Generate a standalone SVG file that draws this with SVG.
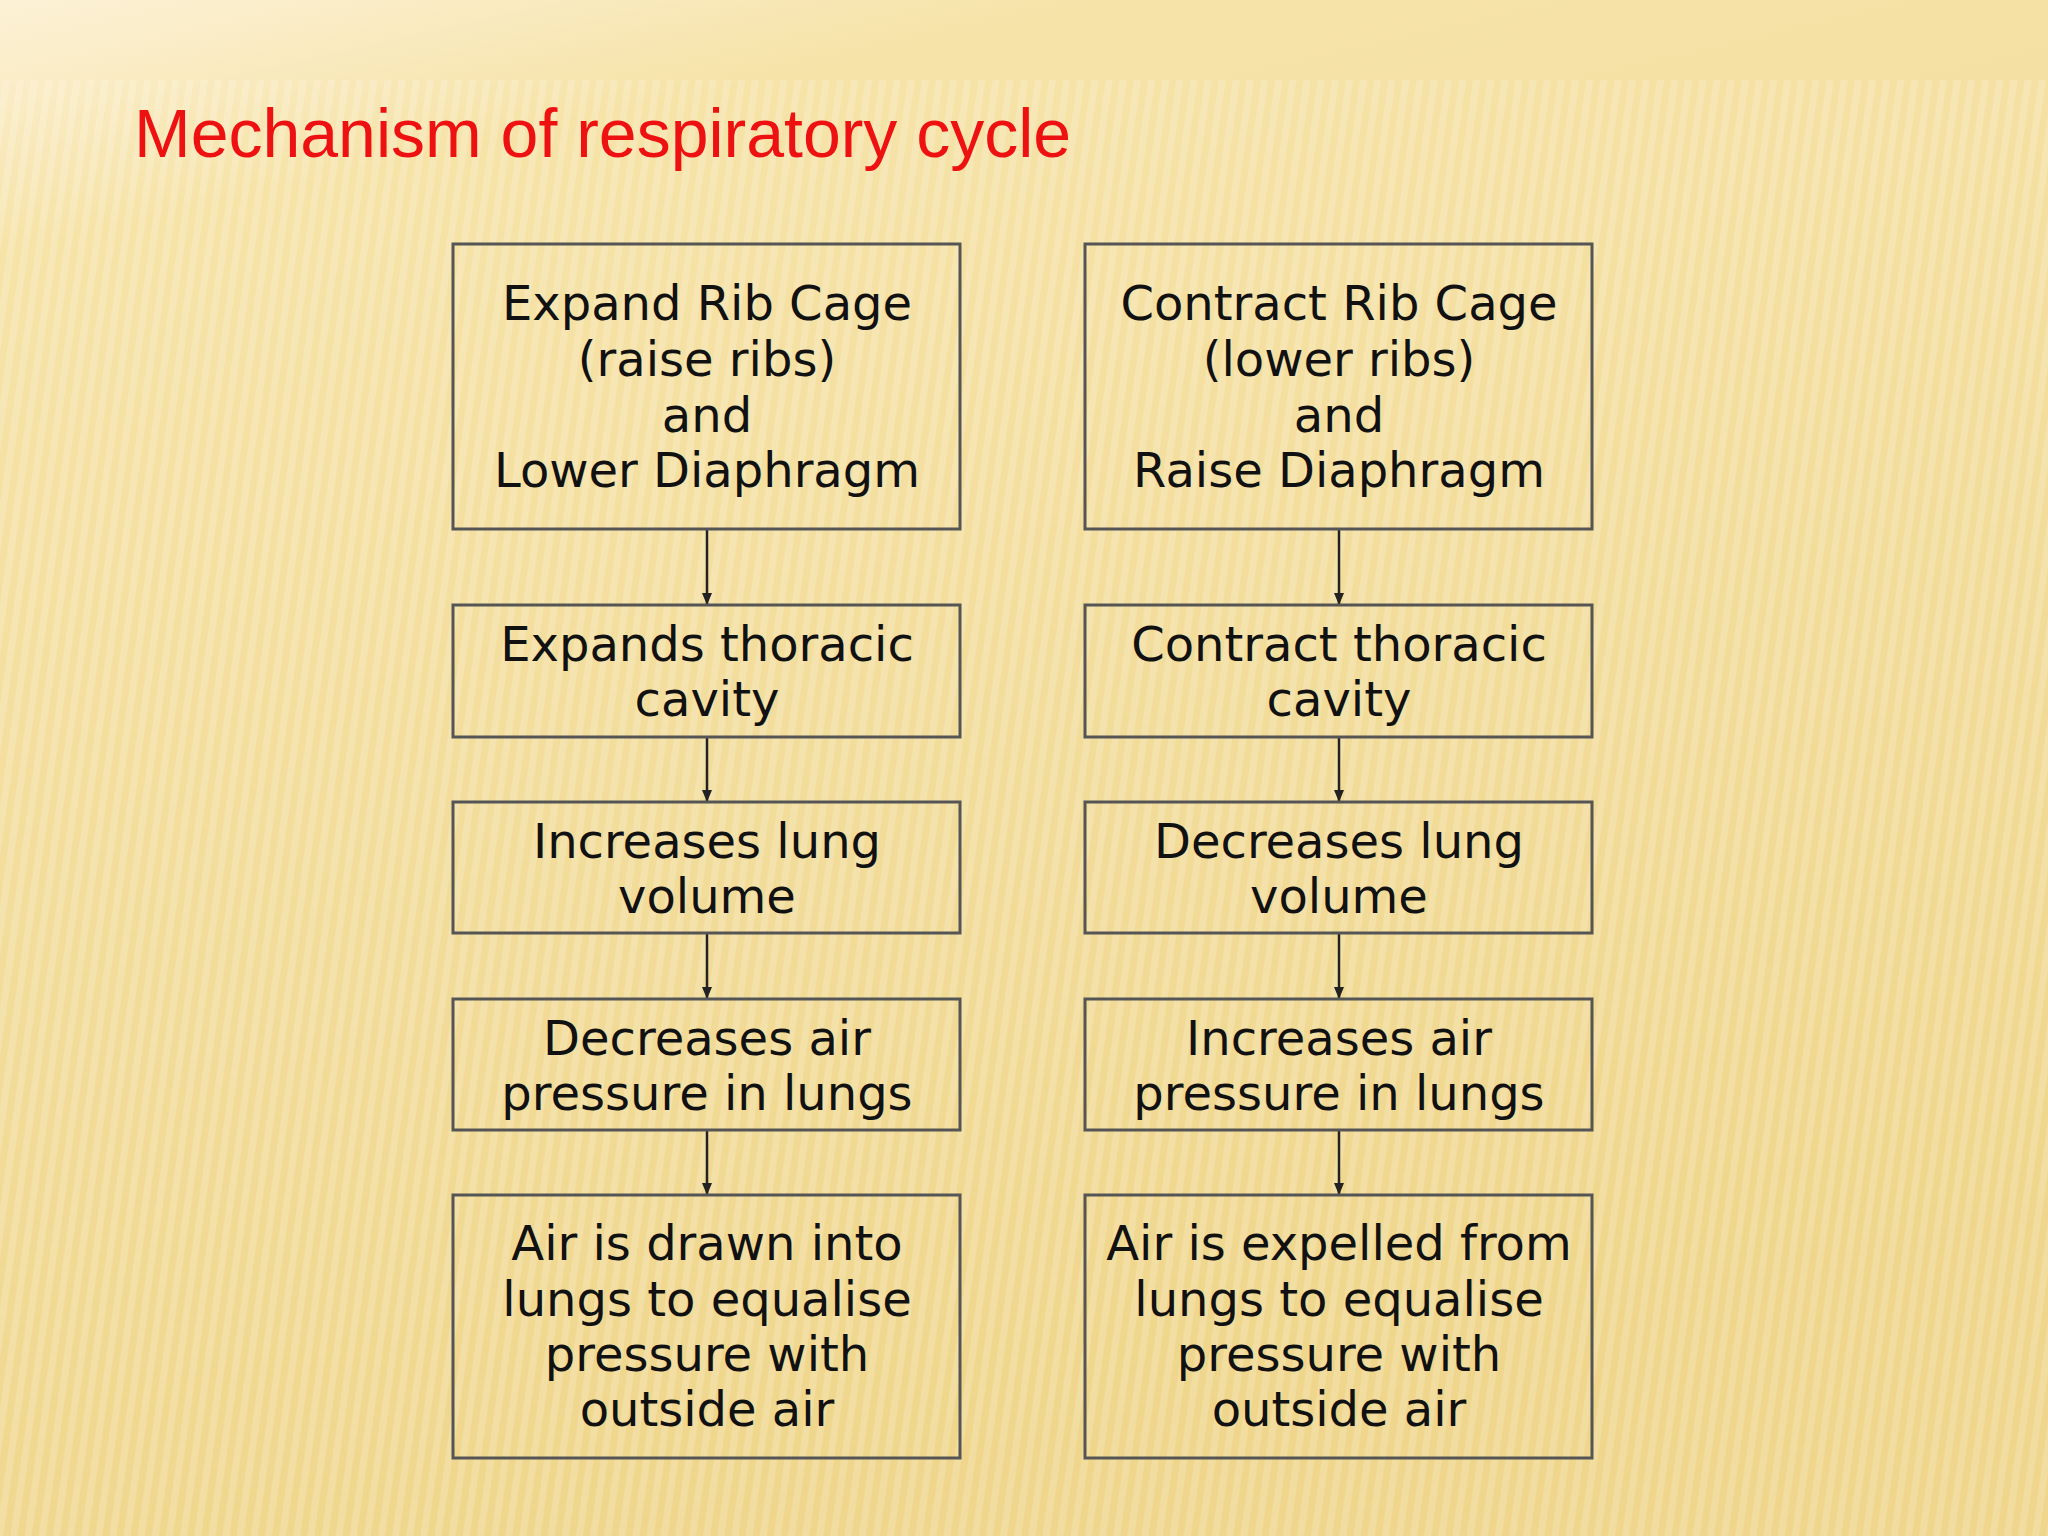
<svg xmlns="http://www.w3.org/2000/svg" width="2048" height="1536" viewBox="0 0 2048 1536">
<defs>
<linearGradient id="bg" x1="0" y1="0" x2="0.3" y2="1">
<stop offset="0" stop-color="#fcf1d6"/>
<stop offset="0.15" stop-color="#f6e3a8"/>
<stop offset="0.6" stop-color="#f2dc9a"/>
<stop offset="1" stop-color="#efd68c"/>
</linearGradient>
<pattern id="stripes" width="14" height="14" patternUnits="userSpaceOnUse" patternTransform="rotate(8)">
<rect width="7" height="14" fill="#ffffff" opacity="0.18"/>
</pattern>
<marker id="ah" markerWidth="12" markerHeight="10" refX="12" refY="5" orient="auto" markerUnits="userSpaceOnUse">
<path d="M0,0 L12,5 L0,10 Z" fill="#222"/>
</marker>
<style>
.box{fill:none;stroke:#555;stroke-width:3}
.t{font-family:"DejaVu Sans",Verdana,sans-serif;font-size:48px;fill:#111;text-anchor:middle}
.c{stroke:#222;stroke-width:2.5;fill:none;marker-end:url(#ah)}
</style>
</defs>
<rect width="2048" height="1536" fill="url(#bg)"/>
<rect y="80" width="2048" height="1456" fill="url(#stripes)"/>
<text x="134" y="157" font-family="Liberation Sans,Arial,sans-serif" font-size="68" fill="#ee1111">Mechanism of respiratory cycle</text>
<g id="connectors">
<line class="c" x1="707" y1="529" x2="707" y2="605"/>
<line class="c" x1="707" y1="737" x2="707" y2="802"/>
<line class="c" x1="707" y1="933" x2="707" y2="999"/>
<line class="c" x1="707" y1="1130" x2="707" y2="1195"/>
<line class="c" x1="1339" y1="529" x2="1339" y2="605"/>
<line class="c" x1="1339" y1="737" x2="1339" y2="802"/>
<line class="c" x1="1339" y1="933" x2="1339" y2="999"/>
<line class="c" x1="1339" y1="1130" x2="1339" y2="1195"/>
</g>
<g id="l1"><rect class="box" x="453" y="244" width="507" height="285"/><text class="t" x="707" y="320">Expand Rib Cage</text><text class="t" x="707" y="376">(raise ribs)</text><text class="t" x="707" y="432">and</text><text class="t" x="707" y="487">Lower Diaphragm</text></g>
<g id="l2"><rect class="box" x="453" y="605" width="507" height="132"/><text class="t" x="707" y="661">Expands thoracic</text><text class="t" x="707" y="716">cavity</text></g>
<g id="l3"><rect class="box" x="453" y="802" width="507" height="131"/><text class="t" x="707" y="858">Increases lung</text><text class="t" x="707" y="913">volume</text></g>
<g id="l4"><rect class="box" x="453" y="999" width="507" height="131"/><text class="t" x="707" y="1055">Decreases air</text><text class="t" x="707" y="1110">pressure in lungs</text></g>
<g id="l5"><rect class="box" x="453" y="1195" width="507" height="263"/><text class="t" x="707" y="1260">Air is drawn into</text><text class="t" x="707" y="1316">lungs to equalise</text><text class="t" x="707" y="1371">pressure with</text><text class="t" x="707" y="1426">outside air</text></g>
<g id="r1"><rect class="box" x="1085" y="244" width="507" height="285"/><text class="t" x="1339" y="320">Contract Rib Cage</text><text class="t" x="1339" y="376">(lower ribs)</text><text class="t" x="1339" y="432">and</text><text class="t" x="1339" y="487">Raise Diaphragm</text></g>
<g id="r2"><rect class="box" x="1085" y="605" width="507" height="132"/><text class="t" x="1339" y="661">Contract thoracic</text><text class="t" x="1339" y="716">cavity</text></g>
<g id="r3"><rect class="box" x="1085" y="802" width="507" height="131"/><text class="t" x="1339" y="858">Decreases lung</text><text class="t" x="1339" y="913">volume</text></g>
<g id="r4"><rect class="box" x="1085" y="999" width="507" height="131"/><text class="t" x="1339" y="1055">Increases air</text><text class="t" x="1339" y="1110">pressure in lungs</text></g>
<g id="r5"><rect class="box" x="1085" y="1195" width="507" height="263"/><text class="t" x="1339" y="1260">Air is expelled from</text><text class="t" x="1339" y="1316">lungs to equalise</text><text class="t" x="1339" y="1371">pressure with</text><text class="t" x="1339" y="1426">outside air</text></g>
</svg>
